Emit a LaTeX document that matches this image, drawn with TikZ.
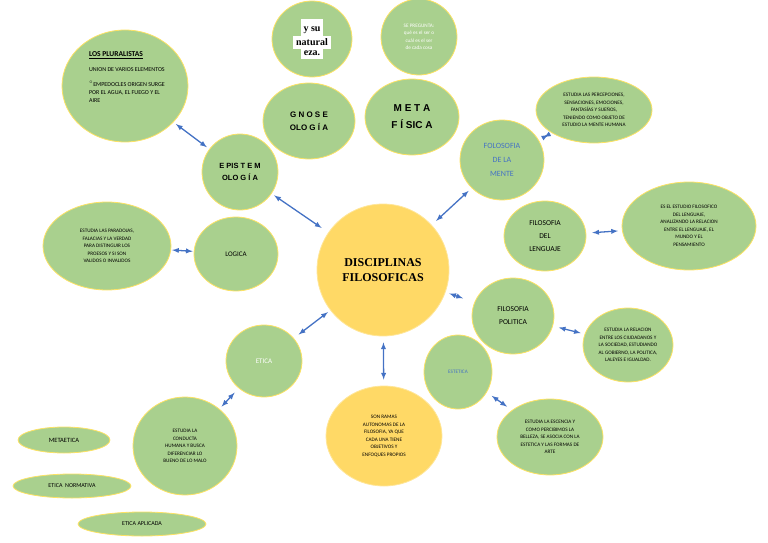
\documentclass[tikz,border=0pt]{standalone}
\usepackage{fontspec}
\setmainfont{Carlito}
\newfontfamily\serifb{Liberation Serif}
\newfontfamily\wide{Liberation Sans}
\begin{document}
\begin{tikzpicture}[x=1pt,y=-1pt,
  bub/.style={ellipse,draw=yellow!70!orange!60,line width=0.8pt,fill=green!45!lime!45!gray!50!green!40,inner sep=0pt,align=center},
  gb/.style={bub,fill={rgb,255:red,169;green,208;blue,142}},
  yb/.style={bub,fill={rgb,255:red,255;green,217;blue,102},draw={rgb,255:red,255;green,230;blue,153}},
  small/.style={font=\fontsize{5.2}{7.5}\selectfont},
  arr/.style={<->,>=latex,draw={rgb,255:red,68;green,114;blue,196},line width=1.3pt,shorten <=3pt,shorten >=3pt}]
\useasboundingbox (0,0) rectangle (768,543);
\usetikzlibrary{shapes.geometric}
\tikzset{el/.style={gb,ellipse}}
\def\E#1#2#3#4#5#6{\node[gb,shape=ellipse,minimum width=#4*2pt,minimum height=#5*2pt,#6] (#1) at (#2,#3)}
\E{nat}{312}{39}{40}{38}{font=\serifb\bfseries\fontsize{10}{13}\selectfont}{\colorbox{white}{\strut y su}\\[-3pt]\colorbox{white}{natural}\\[-3pt]\colorbox{white}{eza.}};
\E{preg}{419}{37}{38}{38}{small,text=white}{SE PREGUNTA:\\qué es el ser o\\cuál es el ser\\de cada cosa};
\E{gno}{309}{121}{46}{38}{font=\wide\bfseries\fontsize{8}{13}\selectfont}{G N O S E\\OLO G Í A};
\E{meta}{412}{117}{47}{38}{font=\wide\bfseries\fontsize{10}{17}\selectfont}{M E T A\\F Í SIC A};
\E{plur}{125}{86}{63}{56}{small,align=left,font=\fontsize{6}{8}\selectfont}{\hspace*{4pt}{\fontsize{7.5}{9}\selectfont\bfseries\underline{LOS PLURALISTAS}}\\[7pt]\hspace*{4pt}UNION DE VARIOS ELEMENTOS\\[7pt]\hspace*{4pt}$^{\circ}$EMPEDOCLES ORIGEN SURGE\\\hspace*{4pt}POR EL AGUA, EL FUEGO Y EL\\\hspace*{4pt}AIRE\\[10pt]};
\E{epi}{240}{172}{38}{38}{font=\wide\bfseries\fontsize{7.5}{12}\selectfont}{E PIS T E M\\OLO G Í A};
\node[yb,shape=ellipse,minimum width=132pt,minimum height=132pt,font=\serifb\bfseries\fontsize{12}{15}\selectfont] (c) at (383,270) {DISCIPLINAS\\FILOSOFICAS};
\E{mente}{502}{160}{42}{40}{font=\fontsize{8}{14}\selectfont,text={rgb,255:red,68;green,114;blue,196}}{FOLOSOFIA\\DE LA\\MENTE};
\E{perc}{594}{110}{58}{33}{small}{ESTUDIA LAS PERCEPCIONES,\\SENSACIONES, EMOCIONES,\\FANTASÍAS Y SUEÑOS,\\TENIENDO COMO OBJETO DE\\ESTUDIO LA MENTE HUMANA};
\E{leng}{545}{236}{41}{35}{font=\fontsize{7.5}{13}\selectfont}{FILOSOFIA\\DEL\\LENGUAJE};
\E{estu}{689}{226}{67}{44}{small}{ES EL ESTUDIO FILOSOFICO\\DEL LENGUAJE,\\ANALIZANDO LA RELACION\\ENTRE EL LENGUAJE, EL\\MUNDO Y EL\\PENSAMIENTO};
\E{pol}{513}{316}{41}{38}{font=\fontsize{7.5}{13}\selectfont}{FILOSOFIA\\POLITICA};
\E{rel}{628}{345}{45}{37}{small}{ESTUDIA LA RELACION\\ENTRE LOS CIUDADANOS Y\\LA SOCIEDAD, ESTUDIANDO\\AL GOBIERNO, LA POLITICA,\\LALEYES E IGUALDAD.};
\E{est}{458}{372}{34}{37}{small,text={rgb,255:red,68;green,114;blue,196}}{ESTETICA};
\E{esc}{550}{437}{53}{38}{small}{ESTUDIA LA ESCENCIA Y\\COMO PERCIBIMOS LA\\BELLEZA, SE ASOCIA CON LA\\ESTETICA Y LAS FORMAS DE\\ARTE};
\node[yb,shape=ellipse,minimum width=116pt,minimum height=100pt,small] (ram) at (384,436) {SON RAMAS\\AUTONOMAS DE LA\\FILOSOFIA, YA QUE\\CADA UNA TIENE\\OBJETIVOS Y\\ENFOQUES PROPIOS};
\E{etica}{264}{361}{38}{36}{font=\fontsize{7}{9}\selectfont,text=white}{ETICA};
\E{par}{107}{246}{64}{44}{small}{ESTUDIA LAS PARADOJAS,\\FALACIAS Y LA VERDAD\\PARA DISTINGUIR LOS\\PROESOS Y SI SON\\VALIDOS O INVALIDOS};
\E{log}{236}{254}{42}{37}{font=\fontsize{7}{9}\selectfont}{LOGICA};
\E{cond}{185}{446}{52}{49}{small}{ESTUDIA LA\\CONDUCTA\\HUMANA Y BUSCA\\DIFERENCIAR LO\\BUENO DE LO MALO};
\E{me}{64}{440}{46}{13}{font=\fontsize{6.5}{8}\selectfont}{METAETICA};
\E{no}{72}{486}{59}{12}{font=\fontsize{6}{8}\selectfont}{ETICA\ \ NORMATIVA};
\E{ap}{142}{524}{64}{12}{font=\fontsize{6}{8}\selectfont}{ETICA APLICADA};
\draw[arr] (plur) -- (epi);
\draw[arr,shorten >=8pt] (epi) -- (c);
\draw[arr,shorten <=1pt,shorten >=1pt] (log) -- (par);
\draw[arr,shorten >=6pt] (c) -- (etica);
\draw[arr,shorten <=6pt] (etica) -- (cond);
\draw[arr,shorten <=6pt,shorten >=6pt] (c) -- (ram);
\draw[arr,shorten <=6pt,shorten >=4pt] (c) -- (mente);
\draw[arr,shorten <=6pt,shorten >=4pt] (mente) -- (perc);
\draw[arr,shorten <=6pt,shorten >=4pt] (leng) -- (estu);
\draw[arr,shorten <=4pt,shorten >=12pt] (c) -- (pol);
\draw[arr,shorten <=6pt,shorten >=4pt] (pol) -- (rel);
\draw[arr,shorten <=6pt,shorten >=6pt] (est) -- (esc);
\end{tikzpicture}
\end{document}
